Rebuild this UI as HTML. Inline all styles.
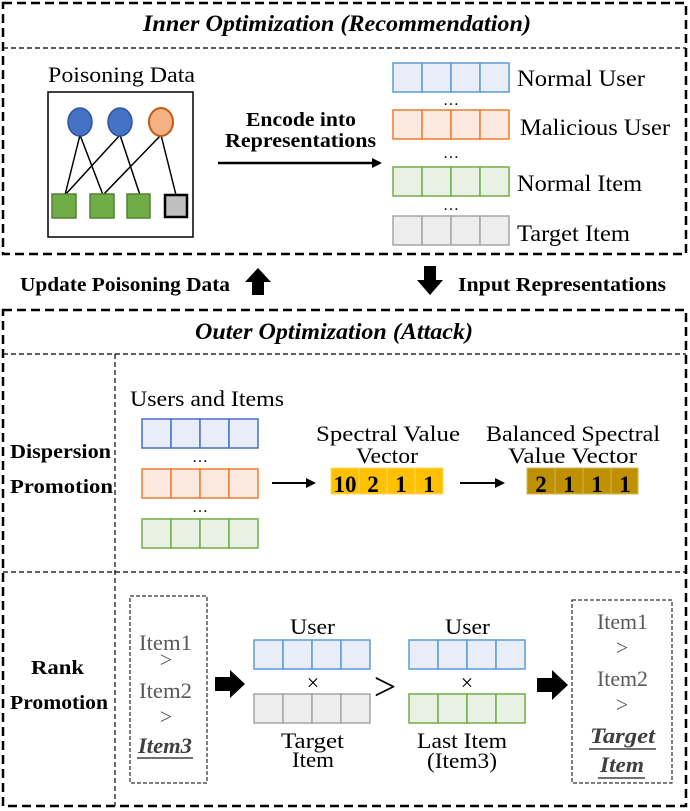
<!DOCTYPE html>
<html><head><meta charset="utf-8"><style>
html,body{margin:0;padding:0;background:#fff;}
svg{display:block;font-family:"Liberation Serif",serif;}
</style></head><body>
<svg width="690" height="811" viewBox="0 0 690 811" xmlns="http://www.w3.org/2000/svg">
<defs>
<marker id="ah" markerWidth="10" markerHeight="10" refX="8" refY="5" orient="auto" markerUnits="userSpaceOnUse"><path d="M0,0 L10,5 L0,10 z" fill="#000"/></marker>
</defs>
<rect x="3" y="3" width="683" height="251" fill="none" stroke="#000" stroke-width="2.5" stroke-dasharray="9,5"/>
<line x1="3" y1="48" x2="686" y2="48" stroke="#000" stroke-width="1.2" stroke-dasharray="5,3"/>
<text x="143" y="31" font-size="23" font-style="italic" font-weight="bold" textLength="388" lengthAdjust="spacingAndGlyphs">Inner Optimization  (Recommendation)</text>
<text x="48" y="82" font-size="22" textLength="147" lengthAdjust="spacingAndGlyphs">Poisoning Data</text>
<rect x="48" y="92" width="145" height="145" fill="none" stroke="#000" stroke-width="1.5"/>
<g stroke="#000" stroke-width="1.5">
<line x1="80" y1="135" x2="65" y2="195"/><line x1="80" y1="135" x2="103" y2="195"/>
<line x1="120" y1="135" x2="65" y2="195"/><line x1="120" y1="135" x2="140" y2="195"/>
<line x1="161" y1="135" x2="103" y2="195"/><line x1="161" y1="135" x2="176" y2="195"/>
</g>
<ellipse cx="80" cy="122" rx="12" ry="14" fill="#4472c4" stroke="#2f5597" stroke-width="1.5"/>
<ellipse cx="120" cy="122" rx="12" ry="14" fill="#4472c4" stroke="#2f5597" stroke-width="1.5"/>
<ellipse cx="161" cy="122" rx="12" ry="14" fill="#f4b183" stroke="#c55a11" stroke-width="2"/>
<rect x="52" y="194" width="24" height="24" fill="#70ad47" stroke="#548235" stroke-width="1.5"/>
<rect x="90" y="194" width="24" height="24" fill="#70ad47" stroke="#548235" stroke-width="1.5"/>
<rect x="127" y="194" width="23" height="24" fill="#70ad47" stroke="#548235" stroke-width="1.5"/>
<rect x="165" y="195" width="22" height="22" fill="#bfbfbf" stroke="#000" stroke-width="2.5"/>
<text x="246" y="126" font-size="20" font-weight="bold" textLength="110" lengthAdjust="spacingAndGlyphs">Encode into</text>
<text x="225" y="147" font-size="20" font-weight="bold" textLength="151" lengthAdjust="spacingAndGlyphs">Representations</text>
<line x1="218" y1="163" x2="380" y2="163" stroke="#000" stroke-width="2.5" marker-end="url(#ah)"/>
<g stroke-width="1.5">
<g fill="#e8edf8" stroke="#5b9bd5"><rect x="393" y="63" width="29" height="29"/><rect x="422" y="63" width="29" height="29"/><rect x="451" y="63" width="29" height="29"/><rect x="480" y="63" width="29" height="29"/></g>
<g fill="#fbe9e0" stroke="#ed7d31"><rect x="393" y="110" width="29" height="29"/><rect x="422" y="110" width="29" height="29"/><rect x="451" y="110" width="29" height="29"/><rect x="480" y="110" width="29" height="29"/></g>
<g fill="#e9f0e4" stroke="#70ad47"><rect x="393" y="167" width="29" height="29"/><rect x="422" y="167" width="29" height="29"/><rect x="451" y="167" width="29" height="29"/><rect x="480" y="167" width="29" height="29"/></g>
<g fill="#ededed" stroke="#a5a5a5"><rect x="393" y="216" width="29" height="29"/><rect x="422" y="216" width="29" height="29"/><rect x="451" y="216" width="29" height="29"/><rect x="480" y="216" width="29" height="29"/></g>
</g>
<g font-size="16" text-anchor="middle"><text x="451" y="105">…</text><text x="451" y="158">…</text><text x="451" y="210">…</text></g>
<g font-size="23">
<text x="517" y="86" textLength="128" lengthAdjust="spacingAndGlyphs">Normal User</text>
<text x="520" y="135" textLength="150" lengthAdjust="spacingAndGlyphs">Malicious User</text>
<text x="517" y="191" textLength="125" lengthAdjust="spacingAndGlyphs">Normal Item</text>
<text x="517" y="241" textLength="113" lengthAdjust="spacingAndGlyphs">Target Item</text>
</g>
<text x="20" y="291" font-size="20" font-weight="bold" textLength="210" lengthAdjust="spacingAndGlyphs">Update Poisoning Data</text>
<path d="M252,295 L252,282 L245,282 L258,268 L271,282 L264,282 L264,295 z" fill="#000"/>
<path d="M424,266 L424,280 L417,280 L430,295 L443,280 L436,280 L436,266 z" fill="#000"/>
<text x="458" y="291" font-size="20" font-weight="bold" textLength="208" lengthAdjust="spacingAndGlyphs">Input Representations</text>
<rect x="3" y="310" width="683" height="496" fill="none" stroke="#000" stroke-width="2.5" stroke-dasharray="9,5"/>
<text x="195" y="339" font-size="23" font-style="italic" font-weight="bold" textLength="278" lengthAdjust="spacingAndGlyphs">Outer Optimization  (Attack)</text>
<line x1="3" y1="354" x2="686" y2="354" stroke="#000" stroke-width="1.2" stroke-dasharray="5,3"/>
<line x1="3" y1="572" x2="686" y2="572" stroke="#000" stroke-width="1.2" stroke-dasharray="5,3"/>
<line x1="115" y1="354" x2="115" y2="806" stroke="#000" stroke-width="1.2" stroke-dasharray="5,3"/>
<text x="10" y="458" font-size="20" font-weight="bold" textLength="101" lengthAdjust="spacingAndGlyphs">Dispersion</text>
<text x="10" y="493" font-size="20" font-weight="bold" textLength="103" lengthAdjust="spacingAndGlyphs">Promotion</text>
<text x="130" y="406" font-size="22" textLength="154" lengthAdjust="spacingAndGlyphs">Users and Items</text>
<g stroke-width="1.5">
<g fill="#e8edf8" stroke="#4472c4"><rect x="142" y="419" width="29" height="29"/><rect x="171" y="419" width="29" height="29"/><rect x="200" y="419" width="29" height="29"/><rect x="229" y="419" width="29" height="29"/></g>
<g fill="#fbe9e0" stroke="#ed7d31"><rect x="142" y="469" width="29" height="29"/><rect x="171" y="469" width="29" height="29"/><rect x="200" y="469" width="29" height="29"/><rect x="229" y="469" width="29" height="29"/></g>
<g fill="#e9f0e4" stroke="#70ad47"><rect x="142" y="519" width="29" height="29"/><rect x="171" y="519" width="29" height="29"/><rect x="200" y="519" width="29" height="29"/><rect x="229" y="519" width="29" height="29"/></g>
</g>
<g font-size="16" text-anchor="middle"><text x="200" y="462">…</text><text x="200" y="512">…</text></g>
<line x1="272" y1="483" x2="314" y2="483" stroke="#000" stroke-width="2" marker-end="url(#ah)"/>
<text x="316" y="441" font-size="22" textLength="144" lengthAdjust="spacingAndGlyphs">Spectral  Value</text>
<text x="356" y="463" font-size="22" textLength="62" lengthAdjust="spacingAndGlyphs">Vector</text>
<g fill="#ffc000" stroke="#ffd966" stroke-width="1"><rect x="331" y="468" width="28" height="26"/><rect x="359" y="468" width="28" height="26"/><rect x="387" y="468" width="28" height="26"/><rect x="415" y="468" width="28" height="26"/></g>
<g font-size="23" font-weight="bold" text-anchor="middle"><text x="345" y="492">10</text><text x="373" y="492">2</text><text x="401" y="492">1</text><text x="429" y="492">1</text></g>
<line x1="460" y1="483" x2="503" y2="483" stroke="#000" stroke-width="2" marker-end="url(#ah)"/>
<text x="486" y="441" font-size="22" textLength="174" lengthAdjust="spacingAndGlyphs">Balanced  Spectral</text>
<text x="508" y="463" font-size="22" textLength="129" lengthAdjust="spacingAndGlyphs">Value Vector</text>
<g fill="#bf9000" stroke="#d6b656" stroke-width="1"><rect x="527" y="468" width="28" height="26"/><rect x="555" y="468" width="28" height="26"/><rect x="583" y="468" width="28" height="26"/><rect x="611" y="468" width="27" height="26"/></g>
<g font-size="23" font-weight="bold" text-anchor="middle"><text x="541" y="492">2</text><text x="569" y="492">1</text><text x="597" y="492">1</text><text x="625" y="492">1</text></g>
<text x="31" y="674" font-size="20" font-weight="bold" textLength="53" lengthAdjust="spacingAndGlyphs">Rank</text>
<text x="10" y="709" font-size="20" font-weight="bold" textLength="98" lengthAdjust="spacingAndGlyphs">Promotion</text>
<rect x="130" y="596" width="77" height="187" fill="none" stroke="#000" stroke-width="1" stroke-dasharray="4,2"/>
<g font-size="22" fill="#595959">
<text x="139" y="650" textLength="53" lengthAdjust="spacingAndGlyphs">Item1</text>
<text x="166" y="667" text-anchor="middle">&gt;</text>
<text x="139" y="698" textLength="53" lengthAdjust="spacingAndGlyphs">Item2</text>
<text x="166" y="724" text-anchor="middle">&gt;</text>
</g>
<text x="138" y="753" font-size="22" fill="#404040" font-weight="bold" font-style="italic" textLength="54" lengthAdjust="spacingAndGlyphs">Item3</text>
<line x1="137" y1="758" x2="193" y2="758" stroke="#404040" stroke-width="1.5"/>
<path d="M215,677 L230,677 L230,670 L245,684 L230,698 L230,691 L215,691 z" fill="#000"/>
<text x="290" y="634" font-size="22" textLength="45" lengthAdjust="spacingAndGlyphs">User</text>
<g stroke-width="1.5">
<g fill="#e8edf8" stroke="#5b9bd5"><rect x="254" y="640" width="29" height="29"/><rect x="283" y="640" width="29" height="29"/><rect x="312" y="640" width="29" height="29"/><rect x="341" y="640" width="29" height="29"/></g>
<g fill="#ededed" stroke="#a5a5a5"><rect x="254" y="694" width="29" height="29"/><rect x="283" y="694" width="29" height="29"/><rect x="312" y="694" width="29" height="29"/><rect x="341" y="694" width="29" height="29"/></g>
<g fill="#e8edf8" stroke="#5b9bd5"><rect x="409" y="640" width="29" height="29"/><rect x="438" y="640" width="29" height="29"/><rect x="467" y="640" width="29" height="29"/><rect x="496" y="640" width="29" height="29"/></g>
<g fill="#e9f0e4" stroke="#70ad47"><rect x="409" y="694" width="29" height="29"/><rect x="438" y="694" width="29" height="29"/><rect x="467" y="694" width="29" height="29"/><rect x="496" y="694" width="29" height="29"/></g>
</g>
<text x="313" y="690" text-anchor="middle" font-size="22">×</text>
<text x="467" y="690" text-anchor="middle" font-size="22">×</text>
<text x="281" y="748" font-size="22" textLength="63" lengthAdjust="spacingAndGlyphs">Target</text>
<text x="292" y="767" font-size="22" textLength="42" lengthAdjust="spacingAndGlyphs">Item</text>
<text x="385" y="700" text-anchor="middle" font-size="40">&gt;</text>
<text x="445" y="634" font-size="22" textLength="45" lengthAdjust="spacingAndGlyphs">User</text>
<text x="417" y="748" font-size="22" textLength="90" lengthAdjust="spacingAndGlyphs">Last Item</text>
<text x="427" y="768" font-size="22" textLength="70" lengthAdjust="spacingAndGlyphs">(Item3)</text>
<path d="M537,678 L552,678 L552,670 L568,685 L552,700 L552,692 L537,692 z" fill="#000"/>
<rect x="572" y="600" width="100" height="183" fill="none" stroke="#000" stroke-width="1" stroke-dasharray="4,2"/>
<g font-size="22" fill="#595959">
<text x="597" y="629" textLength="51" lengthAdjust="spacingAndGlyphs">Item1</text>
<text x="622" y="655" text-anchor="middle">&gt;</text>
<text x="597" y="686" textLength="51" lengthAdjust="spacingAndGlyphs">Item2</text>
<text x="622" y="712" text-anchor="middle">&gt;</text>
</g>
<text x="590" y="743" font-size="22" fill="#404040" font-weight="bold" font-style="italic" textLength="65" lengthAdjust="spacingAndGlyphs">Target</text>
<line x1="589" y1="749" x2="656" y2="749" stroke="#404040" stroke-width="1.5"/>
<text x="600" y="772" font-size="22" fill="#404040" font-weight="bold" font-style="italic" textLength="44" lengthAdjust="spacingAndGlyphs">Item</text>
<line x1="598" y1="778" x2="645" y2="778" stroke="#404040" stroke-width="1.5"/>
</svg>
</body></html>
